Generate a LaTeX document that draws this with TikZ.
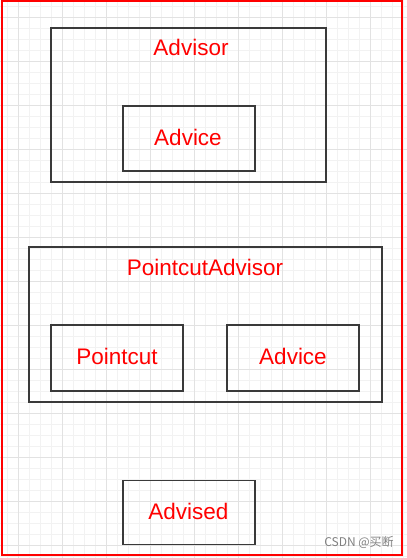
\documentclass[tikz,border=0pt]{standalone}
\usepackage{fontspec}
\setmainfont{Liberation Sans}
\newfontfamily\cjkfont{Noto Sans CJK SC}
\usetikzlibrary{calc}
\definecolor{gridminor}{HTML}{F2F2F2}
\definecolor{gridmajor}{HTML}{E2E2E2}
\definecolor{boxline}{HTML}{3A3A3A}
\tikzset{
	box/.style={draw=boxline, line width=1.2pt, inner sep=0pt},
	lbl/.style={text=red, font=\fontsize{22.5}{26}\selectfont, anchor=base, inner sep=0pt},
}

\begin{document}
\begin{tikzpicture}[x=1pt, y=-1pt]
			%%%%% START %%%%%
			\useasboundingbox (0,0) rectangle (407,558);
			
			% grid
			\foreach \i in {0,...,36} \draw[gridminor, line width=0.8pt] (7+11*\i, 0) -- (7+11*\i, 558);
			\foreach \i in {0,...,50} \draw[gridminor, line width=0.8pt] (0, 6+11*\i) -- (407, 6+11*\i);
			\foreach \i in {0,...,8} \draw[gridmajor, line width=0.8pt] (18+44*\i, 0) -- (18+44*\i, 558);
			\foreach \i in {0,...,12} \draw[gridmajor, line width=0.8pt] (0, 17+44*\i) -- (407, 17+44*\i);
			
			% frame
			\draw[red, line width=1.2pt] (2, 1) rectangle (402, 555);
			
			% Advisor
			\node[box, minimum width=275, minimum height=154] (advisor) at (188.5, 105) {};
			\node[lbl] (advisor-t) at (191, 55.5) {Advisor};
			\node[box, minimum width=132, minimum height=65] (advice-a) at (189, 138.5) {};
			\node[lbl] (advice-a-t) at (188, 145) {Advice};
			
			% PointcutAdvisor
			\node[box, minimum width=353, minimum height=155] (pcadvisor) at (205.5, 324.5) {};
			\node[lbl] (pcadvisor-t) at (205, 275) {PointcutAdvisor};
			\node[box, minimum width=132, minimum height=66] (pointcut) at (117, 358) {};
			\node[lbl] (pointcut-t) at (117, 364) {Pointcut};
			\node[box, minimum width=132, minimum height=66] (advice-b) at (293, 358) {};
			\node[lbl] (advice-b-t) at (293, 364) {Advice};
			
			% Advised
			\node[box, minimum width=132, minimum height=64] (advised) at (189, 512.5) {};
			\node[lbl] (advised-t) at (188.5, 519) {Advised};
			
			% watermark
			\node[text=black!50, font=\cjkfont\fontsize{12}{14}\selectfont, anchor=base, inner sep=0pt] (mark) at (359, 546) {CSDN @买断};
			%%%%% END %%%%%
\end{tikzpicture}
\end{document}
